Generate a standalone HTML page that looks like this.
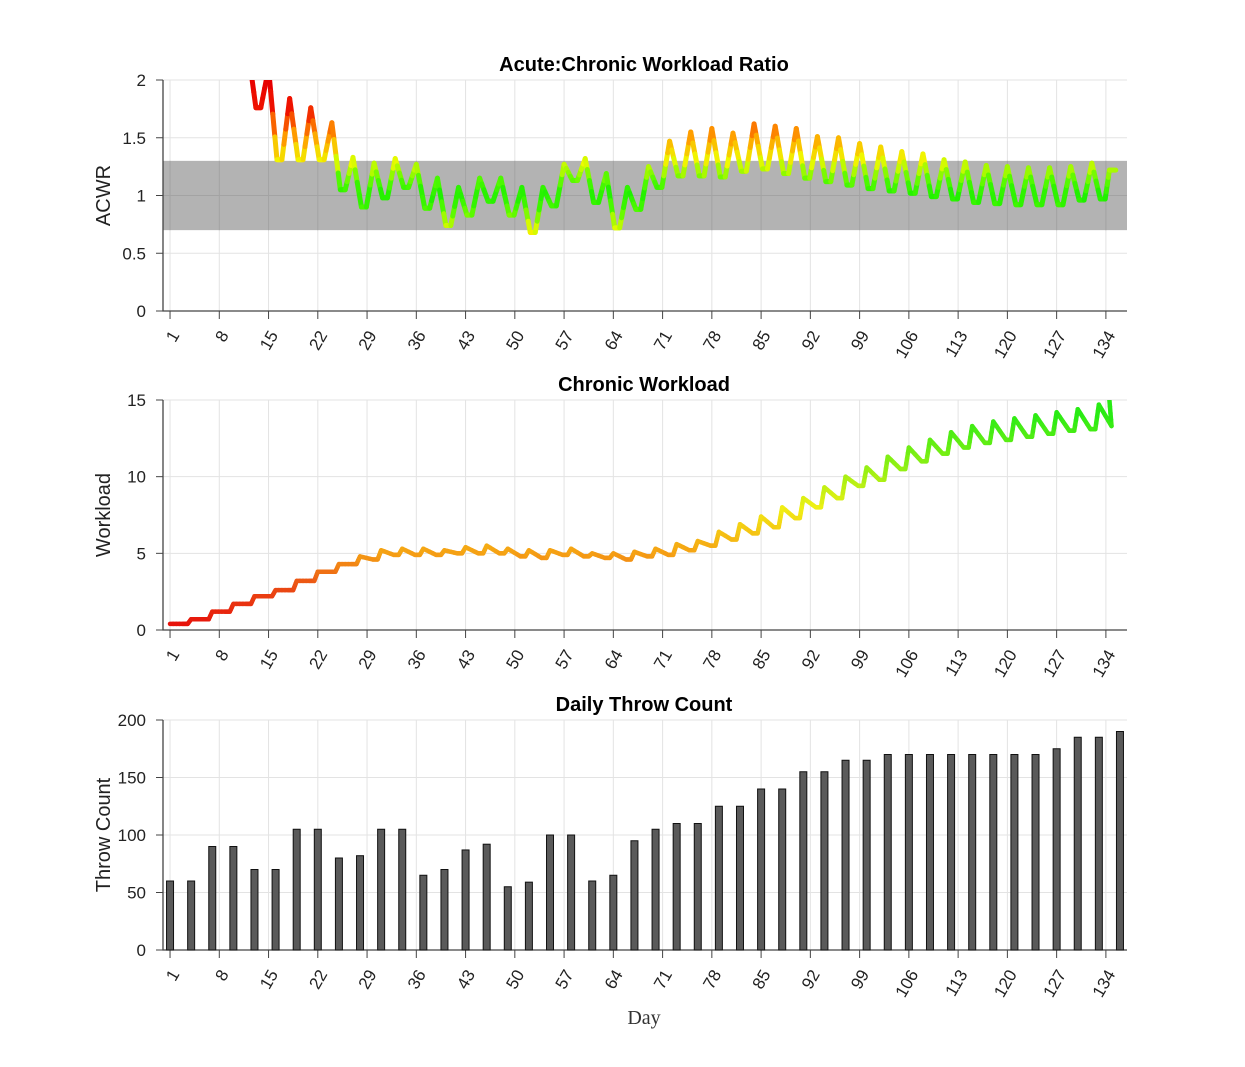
<!DOCTYPE html>
<html><head><meta charset="utf-8"><style>
body{margin:0;background:#fff}
svg{display:block;font-family:"Liberation Sans",sans-serif}
</style></head><body>
<svg id="chart" width="1245" height="1067"></svg>
<script>
const xTicks=[1,8,15,22,29,36,43,50,57,64,71,78,85,92,99,106,113,120,127,134];
const acwrPeakDays=[12,15,18,21,24,27,30,33,36,39,42,45,48,51,54,57,60,63,66,69,72,75,78,81,84,87,90,93,96,99,102,105,108,111,114,117,120,123,126,129,132];
const acwrPeaks=[2.3,2.1,1.84,1.76,1.63,1.33,1.28,1.32,1.27,1.15,1.07,1.15,1.15,1.07,1.07,1.27,1.32,1.19,1.07,1.25,1.47,1.55,1.58,1.54,1.62,1.6,1.58,1.51,1.5,1.45,1.42,1.38,1.36,1.31,1.29,1.26,1.25,1.24,1.24,1.25,1.28];
const acwrTroughs=[1.76,1.31,1.31,1.31,1.05,0.9,0.98,1.07,0.89,0.74,0.83,0.95,0.83,0.68,0.91,1.13,0.94,0.72,0.88,1.07,1.17,1.17,1.16,1.21,1.23,1.19,1.15,1.12,1.09,1.06,1.04,1.02,0.99,0.97,0.94,0.93,0.92,0.92,0.92,0.96,0.97];
const acwrEnd=1.22;
const chronicDays=[1,4,7,10,13,16,19,22,25,28,31,34,37,40,43,46,49,52,55,58,61,64,67,70,73,76,79,82,85,88,91,94,97,100,103,106,109,112,115,118,121,124,127,130,133];
const chronicPeaks=[0.4,0.7,1.2,1.7,2.2,2.6,3.2,3.8,4.3,4.8,5.2,5.3,5.3,5.2,5.4,5.5,5.3,5.2,5.2,5.3,5.0,5.0,5.1,5.3,5.6,5.8,6.4,6.9,7.4,8.0,8.6,9.3,10.0,10.6,11.3,11.9,12.4,12.9,13.3,13.6,13.8,14.0,14.2,14.4,14.7];
const chronicTroughs=[0.4,0.7,1.2,1.7,2.2,2.6,3.2,3.8,4.3,4.6,4.9,4.9,4.9,5.0,5.0,5.0,4.8,4.7,4.9,4.8,4.7,4.6,4.8,4.9,5.2,5.5,5.9,6.3,6.7,7.3,8.0,8.6,9.4,9.8,10.5,11.0,11.5,11.9,12.2,12.4,12.6,12.8,13.0,13.1,13.3];
const chronicEnd=15.0;
const throwDays=[1,4,7,10,13,16,19,22,25,28,31,34,37,40,43,46,49,52,55,58,61,64,67,70,73,76,79,82,85,88,91,94,97,100,103,106,109,112,115,118,121,124,127,130,133,136];
const throwCounts=[60,60,90,90,70,70,105,105,80,82,105,105,65,70,87,92,55,59,100,100,60,65,95,105,110,110,125,125,140,140,155,155,165,165,170,170,170,170,170,170,170,170,175,185,185,190];

const NS="http://www.w3.org/2000/svg";
const svg=document.getElementById('chart');
function mk(tag,attrs,parent){const e=document.createElementNS(NS,tag);for(const k in attrs)e.setAttribute(k,attrs[k]);(parent||svg).appendChild(e);return e;}
const X0=163,X1=1127,XMIN=0,XMAX=137;
const xs=d=>X0+(d-XMIN)/(XMAX-XMIN)*(X1-X0);
function lerpC(stops,t){t=Math.max(stops[0][0],Math.min(stops[stops.length-1][0],t));for(let i=0;i<stops.length-1;i++){const a=stops[i],b=stops[i+1];if(t<=b[0]){const f=(t-a[0])/(b[0]-a[0]);const c=[0,1,2].map(j=>Math.round(a[1][j]+(b[1][j]-a[1][j])*f));return `rgb(${c})`;}}return `rgb(${stops[stops.length-1][1]})`;}
const acwrStops=[[0,[30,240,0]],[0.12,[80,250,0]],[0.3,[240,250,0]],[0.5,[255,160,0]],[0.75,[240,20,0]],[1,[230,0,0]]];
const chronStops=[[0,[230,10,10]],[3,[235,80,20]],[5,[245,160,20]],[6.5,[245,200,20]],[8,[240,240,20]],[10.5,[150,240,20]],[14,[40,235,20]]];

function makeAxes(name,top,bot,ymax,yticks,title,ylabel,band){
  const g=mk('g',{});
  
  
  const ys=v=>bot-(v/ymax)*(bot-top);
  for(const t of xTicks){const l=mk('line',{x1:xs(t),x2:xs(t),y1:top,y2:bot,stroke:'#e3e3e3','stroke-width':1},g);}
  for(const t of yticks){const l=mk('line',{x1:X0,x2:X1,y1:ys(t),y2:ys(t),stroke:'#e3e3e3','stroke-width':1},g);}
  if(band){const r=mk('rect',{x:X0,y:ys(band[1]),width:X1-X0,height:ys(band[0])-ys(band[1]),fill:'#b3b3b3'},g);
    for(const t of xTicks){mk('line',{x1:xs(t),x2:xs(t),y1:ys(band[1]),y2:ys(band[0]),stroke:'#a3a3a3','stroke-width':1},g);}
    mk('line',{x1:X0,x2:X1,y1:ys(1),y2:ys(1),stroke:'#a3a3a3','stroke-width':1},g);}
  const ax=mk('path',{d:`M${X0},${top}V${bot}H${X1}`,fill:'none',stroke:'#444','stroke-width':1.3},g);
  
  for(const t of yticks){mk('line',{x1:X0-7,x2:X0,y1:ys(t),y2:ys(t),stroke:'#444'},g);
    const tx=mk('text',{x:X0-17,y:ys(t)+6,'text-anchor':'end','font-size':17,fill:'#222'},g);tx.textContent=t;
    }
  for(const t of xTicks){mk('line',{x1:xs(t),x2:xs(t),y1:bot,y2:bot+8,stroke:'#444'},g);
    const x=xs(t)+10,y=bot+24;
    const tx=mk('text',{x:x,y:y,'text-anchor':'end','font-size':17,fill:'#222',transform:`rotate(-60 ${x} ${y})`},g);tx.textContent=t;
    }
  const tt=mk('text',{x:644,y:top-9,'text-anchor':'middle','font-size':20,'font-weight':'bold',fill:'#000'},g);tt.textContent=title;
  
  const cy=(top+bot)/2;
  const yl=mk('text',{x:110,y:cy,'text-anchor':'middle','font-size':20,fill:'#222',transform:`rotate(-90 110 ${cy})`},g);yl.textContent=ylabel;
  
  return ys;
}
function drawGradLine(pts,ys,top,colorFn,width,name){
  const g=mk('g',{});
  
  
  const cp=mk('clipPath',{id:name+'-clip'},g);mk('rect',{x:X0,y:top,width:X1-X0,height:400},cp);
  g.setAttribute('clip-path',`url(#${name}-clip)`);
  for(let i=0;i<pts.length-1;i++){const a=pts[i],b=pts[i+1];const n=4;
    for(let k=0;k<n;k++){const f0=k/n,f1=(k+1)/n;const d0=a[0]+(b[0]-a[0])*f0,v0=a[1]+(b[1]-a[1])*f0,d1=a[0]+(b[0]-a[0])*f1,v1=a[1]+(b[1]-a[1])*f1;
      mk('line',{x1:xs(d0),y1:ys(v0),x2:xs(d1),y2:ys(v1),stroke:colorFn((v0+v1)/2),'stroke-width':width,'stroke-linecap':'round'},g);}}
}
// Top
const ys1=makeAxes('acwr-chart',80,311,2,[0,0.5,1,1.5,2],'Acute:Chronic Workload Ratio','ACWR',[0.7,1.3]);
const p1=[];
for(let i=0;i<acwrPeakDays.length;i++){const d=acwrPeakDays[i];p1.push([d,acwrPeaks[i]]);p1.push([d+1.2,acwrTroughs[i]]);p1.push([d+1.9,acwrTroughs[i]]);}
p1.push([134.5,acwrEnd]);p1.push([135.4,acwrEnd]);
drawGradLine(p1,ys1,80,v=>lerpC(acwrStops,Math.abs(v-1)),5,'acwr-line');
// Middle
const ys2=makeAxes('chronic-chart',400,630,15,[0,5,10,15],'Chronic Workload','Workload',null);
const p2=[];
for(let i=0;i<chronicDays.length;i++){const d=chronicDays[i];const prev=i>0?chronicTroughs[i-1]:chronicPeaks[0];
  if(i>0)p2.push([d-0.5,prev]);p2.push([d,chronicPeaks[i]]);p2.push([d+1.8,chronicTroughs[i]]);}
p2.push([134.5,chronicEnd]);
drawGradLine(p2,ys2,400,v=>lerpC(chronStops,v),4.5,'chronic-line');
// Bottom
const ys3=makeAxes('throw-count-chart',720,950,200,[0,50,100,150,200],'Daily Throw Count','Throw Count',null);
const bg=mk('g',{});


for(let i=0;i<throwDays.length;i++){const x=xs(throwDays[i]);
  const r=mk('rect',{x:x-3.5,y:ys3(throwCounts[i]),width:7,height:950-ys3(throwCounts[i]),fill:'#5a5a5a',stroke:'#111','stroke-width':1},bg);
  
  }
const xl=mk('text',{x:644,y:1024,'text-anchor':'middle','font-size':20,fill:'#333','font-family':'"Liberation Serif",serif'});
xl.textContent='Day';


</script>
</body></html>
